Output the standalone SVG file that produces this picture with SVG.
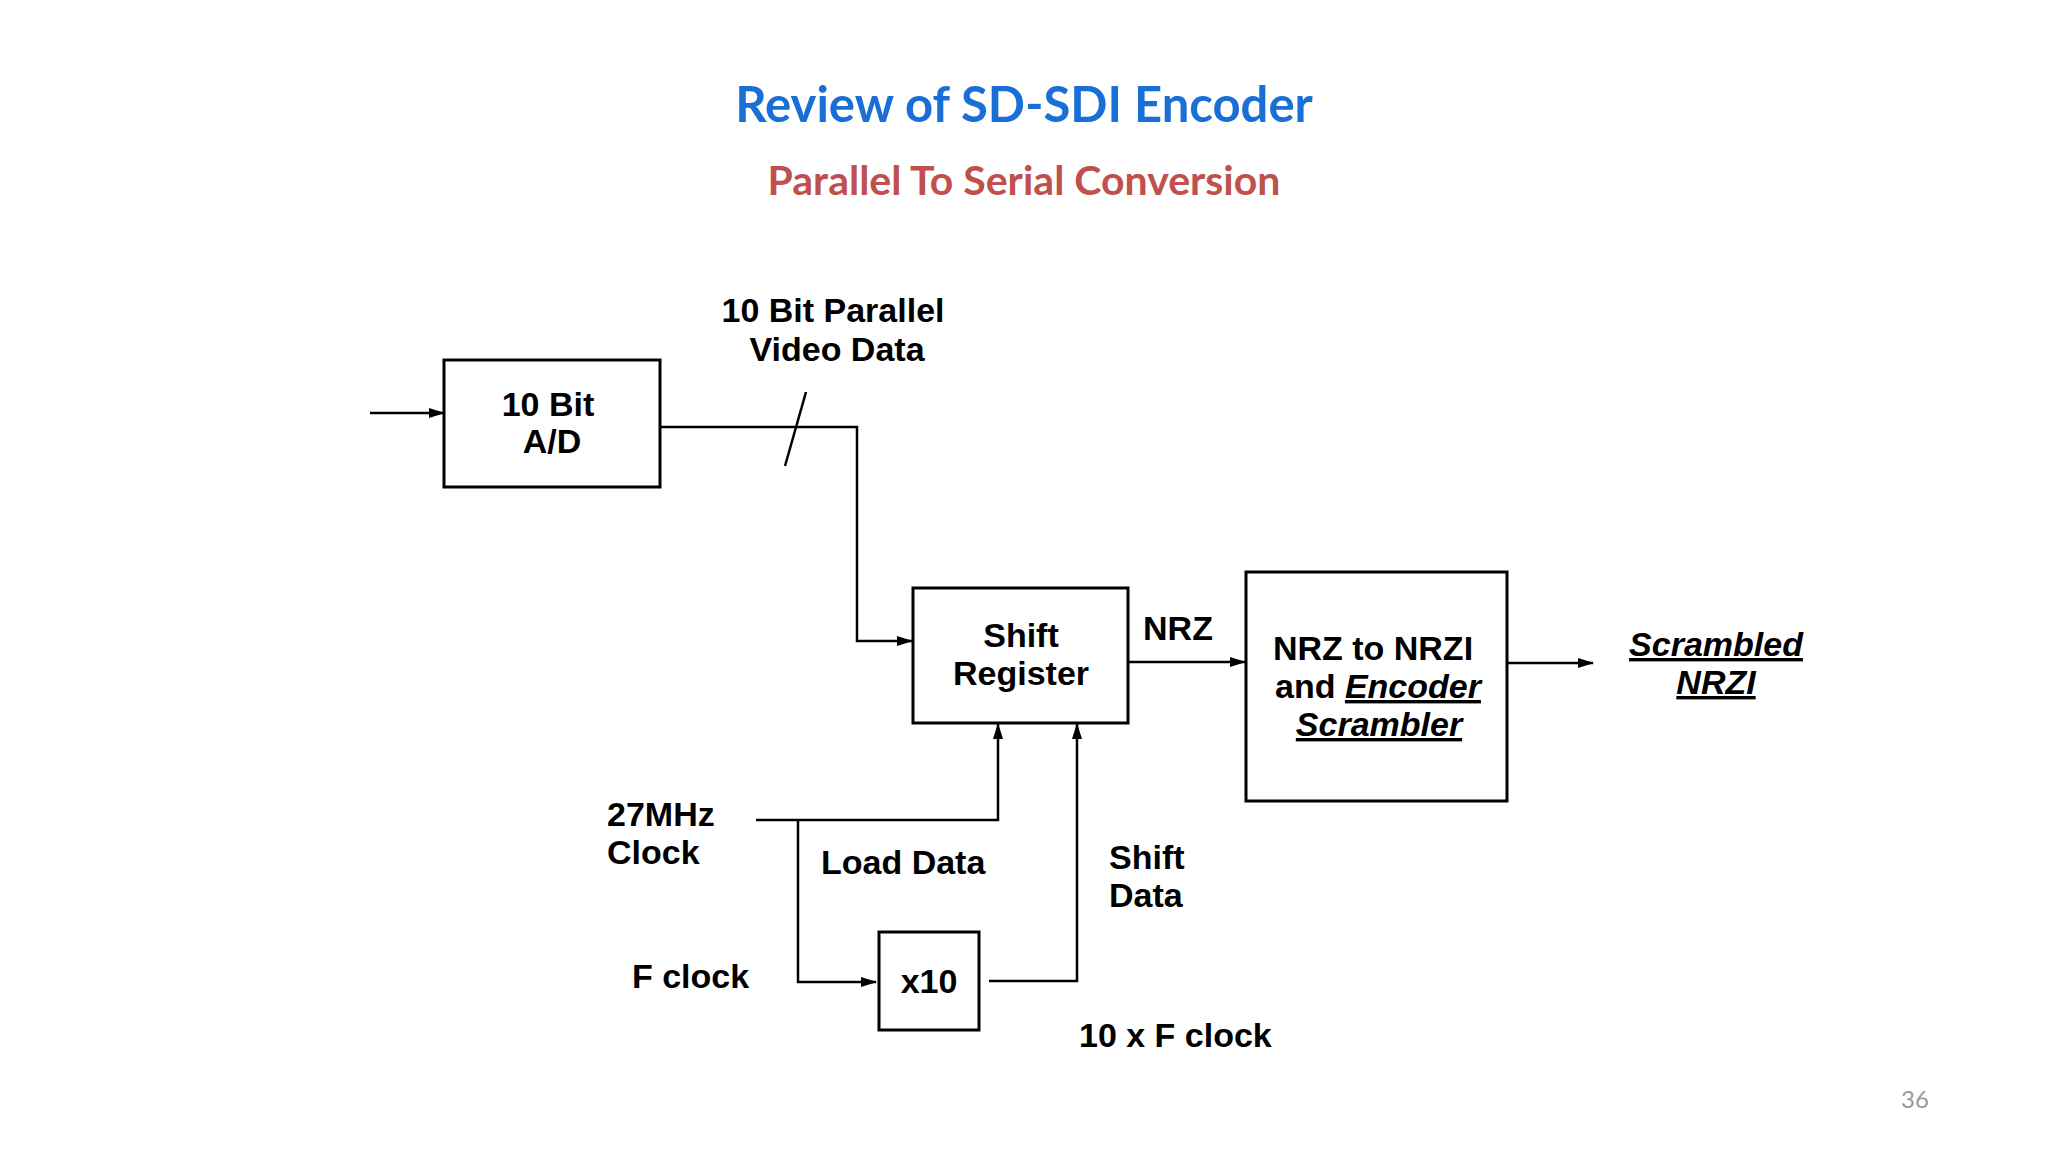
<svg xmlns="http://www.w3.org/2000/svg" width="2048" height="1152" viewBox="0 0 2048 1152">
<style>
.t{font-family:"Liberation Sans",Arial,sans-serif;font-weight:bold;font-size:34px;fill:#000}
.m{text-anchor:middle}
.b{fill:#fff;stroke:#000;stroke-width:3}
.l{fill:none;stroke:#000;stroke-width:2.5}
.h{font-family:Lato,"Liberation Sans",sans-serif;font-weight:bold;text-anchor:middle}
</style>
<defs><marker id="a" markerWidth="16" markerHeight="14" refX="15" refY="7" orient="auto" markerUnits="userSpaceOnUse"><path d="M0,2 L16,7 L0,12 Z" fill="#000"/></marker></defs>
<rect width="2048" height="1152" fill="#fff"/>
<text class="h" x="1024" y="122" font-size="49" fill="#1a6fd6">Review of SD-SDI Encoder</text>
<text class="h" x="1024" y="195" font-size="41" fill="#c0504d">Parallel To Serial Conversion</text>
<g id="connectors">
<line class="l" x1="370" y1="413" x2="444" y2="413" marker-end="url(#a)"/>
<polyline class="l" points="660,427 857,427 857,641 912,641" marker-end="url(#a)"/>
<line class="l" x1="806" y1="392" x2="785" y2="466"/>
<line class="l" x1="1128" y1="662" x2="1245" y2="662" marker-end="url(#a)"/>
<line class="l" x1="1507" y1="663" x2="1593" y2="663" marker-end="url(#a)"/>
<polyline class="l" points="756,820 998,820 998,724" marker-end="url(#a)"/>
<polyline class="l" points="798,820 798,982 876,982" marker-end="url(#a)"/>
<polyline class="l" points="989,981 1077,981 1077,724" marker-end="url(#a)"/>
</g>
<g id="ad"><rect class="b" x="444" y="360" width="216" height="127"/>
<text class="t m" x="548" y="416">10 Bit</text><text class="t m" x="552" y="453">A/D</text></g>
<g id="sr"><rect class="b" x="913" y="588" width="215" height="135"/>
<text class="t m" x="1021" y="647">Shift</text><text class="t m" x="1021" y="685">Register</text></g>
<g id="enc"><rect class="b" x="1246" y="572" width="261" height="229"/>
<text class="t m" x="1373" y="660">NRZ to NRZI</text>
<text class="t m" x="1378" y="698">and <tspan font-style="italic" text-decoration="underline">Encoder</tspan></text>
<text class="t m" x="1379" y="736" font-style="italic" text-decoration="underline">Scrambler</text></g>
<g id="x10"><rect class="b" x="879" y="932" width="100" height="98"/>
<text class="t m" x="929" y="993">x10</text></g>
<g id="labels">
<text class="t m" x="833" y="322">10 Bit Parallel</text>
<text class="t m" x="837" y="361">Video Data</text>
<text class="t m" x="1178" y="640">NRZ</text>
<text class="t m" x="1716" y="656" font-style="italic" text-decoration="underline">Scrambled</text>
<text class="t m" x="1716" y="694" font-style="italic" text-decoration="underline">NRZI</text>
<text class="t" x="607" y="826">27MHz</text>
<text class="t" x="607" y="864">Clock</text>
<text class="t" x="821" y="874">Load Data</text>
<text class="t" x="1109" y="869">Shift</text>
<text class="t" x="1109" y="907">Data</text>
<text class="t" x="632" y="988">F clock</text>
<text class="t" x="1079" y="1047">10 x F clock</text>
<text x="1915" y="1108" font-family="Lato,'Liberation Sans',sans-serif" font-size="24" fill="#999" text-anchor="middle">36</text>
</g>
</svg>
